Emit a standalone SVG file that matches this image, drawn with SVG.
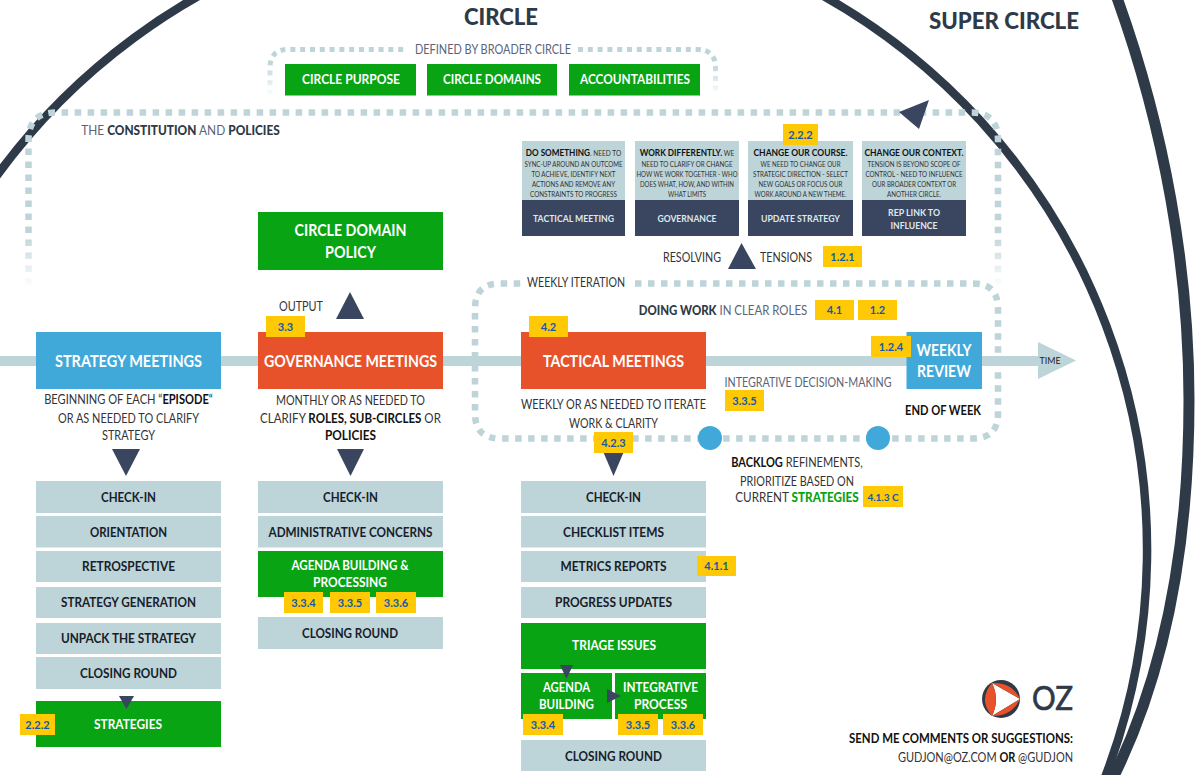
<svg xmlns="http://www.w3.org/2000/svg" width="1200" height="775" viewBox="0 0 1200 775">
<style>
text{font-family:Lato,"Liberation Sans",sans-serif;text-anchor:middle}
.blue{fill:#41a9da}.red{fill:#e7522a}.green{fill:#08a414}.pale{fill:#bdd4d9}.navy{fill:#3a4560}.ybox{fill:#ffc906}
.arc{fill:none;stroke:#2f3a48}
.d1{fill:none;stroke:url(#fadeA);stroke-width:6.5;stroke-dasharray:6.5 6.5}
.d2{fill:none;stroke:url(#fadeB);stroke-width:5;stroke-dasharray:5 4.8}
.d3{fill:none;stroke:#bdd4d9;stroke-width:6.5;stroke-dasharray:6.5 6.5}
.badge{font-size:11px;font-weight:700;fill:#1259ab}
.h1{font-size:17px;font-weight:700;fill:#fff}
.h2{font-size:14px;font-weight:700;fill:#fff}
.li{font-size:14px;font-weight:700;fill:#17202a}
.cap{font-size:13px;fill:#333}
.mut{font-size:13px;fill:#5a6478}
.b{font-weight:700;fill:#111}
.bn{font-weight:900;fill:#2f3a48}
.ct{font-size:10px;font-weight:700;fill:#111}
.cb{font-size:8px;fill:#333}
.cl{font-size:10px;font-weight:700;fill:#dfe9ec}
.title{font-size:23px;font-weight:900;fill:#2f3a48}
</style>
<defs>
<linearGradient id="fadeA" gradientUnits="userSpaceOnUse" x1="0" y1="232" x2="0" y2="285"><stop offset="0" stop-color="#bdd4d9"/><stop offset="1" stop-color="#bdd4d9" stop-opacity="0.05"/></linearGradient>
<linearGradient id="fadeB" gradientUnits="userSpaceOnUse" x1="0" y1="62" x2="0" y2="95"><stop offset="0" stop-color="#bdd4d9"/><stop offset="1" stop-color="#bdd4d9" stop-opacity="0.05"/></linearGradient>
</defs>

<g id="circles">
<path class="arc" stroke-width="8.5" d="M-20,200 A636,636 0 0 1 1104,780"/>
<path class="arc" stroke-width="11" d="M1116,-5 C1165,130 1189,270 1189,400 C1189,540 1167,670 1112,780"/>
</g>

<g id="connectors">
<rect class="pale" x="0" y="356" width="1040" height="10"/>
<polygon class="pale" points="1038,342 1076,360.500 1038,379"/>
<path class="d1" d="M28.500,285 V140 Q28.500,112.500 56,112.500 H971 Q998,112.500 998,140 V285"/>
<path class="d2" d="M270,95 V68 Q270,49.500 288,49.500 H404"/>
<path class="d2" d="M578,49.500 H697 Q715.500,49.500 715.500,68 V95"/>
<path class="d3" d="M635,283.500 H973 Q998,283.500 998,308.500 V413.500 Q998,438.500 973,438.500 H500 Q475,438.500 475,413.500 V308.500 Q475,283.500 500,283.500 H522"/>
<polygon class="navy" points="899,112 929,100 919,129"/>
<polygon class="navy" points="728,269 756,269 741.500,243"/>
<polygon class="navy" points="336,319 364,319 350,292"/>
<polygon class="navy" points="112,449 140,449 126,476"/>
<polygon class="navy" points="337,449 364,449 350.500,476"/>
<polygon class="navy" points="602,449 625,449 613.500,476"/>
<circle class="blue" cx="710" cy="438" r="12"/>
<circle class="blue" cx="878" cy="438" r="12"/>
</g>

<g id="titles">
<text class="title" x="501" y="24.500" textLength="74" lengthAdjust="spacingAndGlyphs">CIRCLE</text>
<text class="title" x="1004" y="29" textLength="150" lengthAdjust="spacingAndGlyphs">SUPER CIRCLE</text>
<text class="mut" x="493" y="54" textLength="156" lengthAdjust="spacingAndGlyphs">DEFINED BY BROADER CIRCLE</text>
<text class="mut" transform="translate(180.500,135) scale(.913,1)">THE <tspan class="bn">CONSTITUTION</tspan> AND <tspan class="bn">POLICIES</tspan></text>
<text class="cap" x="576" y="287" textLength="98" lengthAdjust="spacingAndGlyphs">WEEKLY ITERATION</text>
<text class="mut" transform="translate(723,315) scale(.88,1)"><tspan class="bn">DOING WORK</tspan> IN CLEAR ROLES</text>
<text class="cap" x="301" y="311" textLength="44" lengthAdjust="spacingAndGlyphs">OUTPUT</text>
<text class="cap" x="692" y="262" textLength="58" lengthAdjust="spacingAndGlyphs">RESOLVING</text>
<text class="cap" x="786" y="262" textLength="52" lengthAdjust="spacingAndGlyphs">TENSIONS</text>
<text class="mut" x="808" y="386.500" textLength="167" lengthAdjust="spacingAndGlyphs">INTEGRATIVE DECISION-MAKING</text>
<text class="cap b" x="943" y="415" textLength="76" lengthAdjust="spacingAndGlyphs">END OF WEEK</text>
<text class="cap" transform="translate(797,467) scale(.846,1)"><tspan class="b">BACKLOG</tspan> REFINEMENTS,</text>
<text class="cap" x="797" y="486" textLength="114" lengthAdjust="spacingAndGlyphs">PRIORITIZE BASED ON</text>
<text class="cap" transform="translate(797,502) scale(.9,1)">CURRENT <tspan font-weight="900" fill="#08a414">STRATEGIES</tspan></text>
<text font-size="10" fill="#222" x="1050" y="364" textLength="21" lengthAdjust="spacingAndGlyphs">TIME</text>
</g>

<g id="node-circle-purpose"><rect class="green" x="285" y="64" width="131" height="31.500"/><text class="h2" x="351" y="84" textLength="98" lengthAdjust="spacingAndGlyphs">CIRCLE PURPOSE</text></g>
<g id="node-circle-domains"><rect class="green" x="427" y="64" width="130" height="31.500"/><text class="h2" x="492" y="84" textLength="98" lengthAdjust="spacingAndGlyphs">CIRCLE DOMAINS</text></g>
<g id="node-accountabilities"><rect class="green" x="569" y="64" width="131" height="31.500"/><text class="h2" x="635" y="84" textLength="110" lengthAdjust="spacingAndGlyphs">ACCOUNTABILITIES</text></g>

<g id="node-do-something">
<rect class="pale" x="522" y="141" width="103" height="59"/><rect class="navy" x="522" y="200" width="103" height="36"/>
<text class="ct" transform="translate(573.500,156) scale(.82,1)">DO SOMETHING<tspan class="cb" font-weight="400">. NEED TO</tspan></text>
<text class="cb" x="573.500" y="167" textLength="98" lengthAdjust="spacingAndGlyphs">SYNC-UP AROUND AN OUTCOME</text>
<text class="cb" x="573.500" y="177" textLength="84" lengthAdjust="spacingAndGlyphs">TO ACHIEVE, IDENTIFY NEXT</text>
<text class="cb" x="573.500" y="187" textLength="83" lengthAdjust="spacingAndGlyphs">ACTIONS AND REMOVE ANY</text>
<text class="cb" x="573.500" y="196.500" textLength="87" lengthAdjust="spacingAndGlyphs">CONSTRAINTS TO PROGRESS</text>
<text class="cl" x="573.500" y="221.500" textLength="81" lengthAdjust="spacingAndGlyphs">TACTICAL MEETING</text>
</g>
<g id="node-work-differently">
<rect class="pale" x="635" y="141" width="104" height="59"/><rect class="navy" x="635" y="200" width="104" height="36"/>
<text class="ct" transform="translate(687,156) scale(.826,1)">WORK DIFFERENTLY.<tspan class="cb" font-weight="400"> WE</tspan></text>
<text class="cb" x="687" y="167" textLength="91" lengthAdjust="spacingAndGlyphs">NEED TO CLARIFY OR CHANGE</text>
<text class="cb" x="687" y="177" textLength="101" lengthAdjust="spacingAndGlyphs">HOW WE WORK TOGETHER - WHO</text>
<text class="cb" x="687" y="187" textLength="94" lengthAdjust="spacingAndGlyphs">DOES WHAT, HOW, AND WITHIN</text>
<text class="cb" x="687" y="196.500" textLength="38" lengthAdjust="spacingAndGlyphs">WHAT LIMITS</text>
<text class="cl" x="687" y="221.500" textLength="59" lengthAdjust="spacingAndGlyphs">GOVERNANCE</text>
</g>
<g id="node-change-course">
<rect class="pale" x="748" y="141" width="105" height="59"/><rect class="navy" x="748" y="200" width="105" height="36"/>
<text class="ct" x="800.500" y="156" textLength="94" lengthAdjust="spacingAndGlyphs">CHANGE OUR COURSE.</text>
<text class="cb" x="800.500" y="167" textLength="80" lengthAdjust="spacingAndGlyphs">WE NEED TO CHANGE OUR</text>
<text class="cb" x="800.500" y="177" textLength="95" lengthAdjust="spacingAndGlyphs">STRATEGIC DIRECTION - SELECT</text>
<text class="cb" x="800.500" y="187" textLength="84" lengthAdjust="spacingAndGlyphs">NEW GOALS OR FOCUS OUR</text>
<text class="cb" x="800.500" y="196.500" textLength="92" lengthAdjust="spacingAndGlyphs">WORK AROUND A NEW THEME.</text>
<text class="cl" x="800.500" y="221.500" textLength="79" lengthAdjust="spacingAndGlyphs">UPDATE STRATEGY</text>
</g>
<g id="node-change-context">
<rect class="pale" x="862" y="141" width="104" height="59"/><rect class="navy" x="862" y="200" width="104" height="36"/>
<text class="ct" x="914" y="156" textLength="99" lengthAdjust="spacingAndGlyphs">CHANGE OUR CONTEXT.</text>
<text class="cb" x="914" y="167" textLength="93" lengthAdjust="spacingAndGlyphs">TENSION IS BEYOND SCOPE OF</text>
<text class="cb" x="914" y="177" textLength="97" lengthAdjust="spacingAndGlyphs">CONTROL - NEED TO INFLUENCE</text>
<text class="cb" x="914" y="187" textLength="84" lengthAdjust="spacingAndGlyphs">OUR BROADER CONTEXT OR</text>
<text class="cb" x="914" y="196.500" textLength="54" lengthAdjust="spacingAndGlyphs">ANOTHER CIRCLE.</text>
<text class="cl" x="914" y="215.500" textLength="52" lengthAdjust="spacingAndGlyphs">REP LINK TO</text>
<text class="cl" x="914" y="228.500" textLength="47" lengthAdjust="spacingAndGlyphs">INFLUENCE</text>
</g>

<g id="node-circle-domain-policy"><rect class="green" x="258" y="212" width="185" height="58"/>
<text class="h1" x="350.500" y="236" textLength="112" lengthAdjust="spacingAndGlyphs">CIRCLE DOMAIN</text>
<text class="h1" x="350.500" y="258" textLength="51" lengthAdjust="spacingAndGlyphs">POLICY</text></g>

<g id="node-strategy-meetings"><rect class="blue" x="36" y="332" width="185" height="57"/><text class="h1" x="128.500" y="367" textLength="147" lengthAdjust="spacingAndGlyphs">STRATEGY MEETINGS</text></g>
<g id="node-governance-meetings"><rect class="red" x="258" y="332" width="185" height="57"/><text class="h1" x="350.500" y="367" textLength="173" lengthAdjust="spacingAndGlyphs">GOVERNANCE MEETINGS</text></g>
<g id="node-tactical-meetings"><rect class="red" x="521" y="332" width="185" height="57"/><text class="h1" x="613.500" y="367" textLength="141" lengthAdjust="spacingAndGlyphs">TACTICAL MEETINGS</text></g>
<g id="node-weekly-review"><rect class="blue" x="906.500" y="332" width="75.500" height="57"/>
<text class="h1" x="944" y="356" textLength="55" lengthAdjust="spacingAndGlyphs">WEEKLY</text>
<text class="h1" x="944" y="377" textLength="54" lengthAdjust="spacingAndGlyphs">REVIEW</text></g>

<g id="captions">
<text class="cap" transform="translate(128.500,404) scale(.853,1)">BEGINNING OF EACH “<tspan class="b">EPISODE</tspan>“</text>
<text class="cap" x="128.500" y="423" textLength="141" lengthAdjust="spacingAndGlyphs">OR AS NEEDED TO CLARIFY</text>
<text class="cap" x="128.500" y="440" textLength="53" lengthAdjust="spacingAndGlyphs">STRATEGY</text>
<text class="cap" x="350.500" y="405" textLength="149" lengthAdjust="spacingAndGlyphs">MONTHLY OR AS NEEDED TO</text>
<text class="cap" transform="translate(350.500,423) scale(.89,1)">CLARIFY <tspan class="b">ROLES, SUB-CIRCLES</tspan> OR</text>
<text class="cap b" x="350.500" y="440" textLength="51" lengthAdjust="spacingAndGlyphs">POLICIES</text>
<text class="cap" x="613.500" y="409" textLength="185" lengthAdjust="spacingAndGlyphs">WEEKLY OR AS NEEDED TO ITERATE</text>
<text class="cap" x="613.500" y="428" textLength="89" lengthAdjust="spacingAndGlyphs">WORK &amp; CLARITY</text>
</g>

<g id="node-s1"><rect class="pale" x="36" y="481" width="185" height="32"/><text class="li" x="128.500" y="502" textLength="55" lengthAdjust="spacingAndGlyphs">CHECK-IN</text></g>
<g id="node-s2"><rect class="pale" x="36" y="516" width="185" height="31.500"/><text class="li" x="128.500" y="537" textLength="77" lengthAdjust="spacingAndGlyphs">ORIENTATION</text></g>
<g id="node-s3"><rect class="pale" x="36" y="551" width="185" height="31"/><text class="li" x="128.500" y="571" textLength="93" lengthAdjust="spacingAndGlyphs">RETROSPECTIVE</text></g>
<g id="node-s4"><rect class="pale" x="36" y="587" width="185" height="31"/><text class="li" x="128.500" y="607" textLength="135" lengthAdjust="spacingAndGlyphs">STRATEGY GENERATION</text></g>
<g id="node-s5"><rect class="pale" x="36" y="623" width="185" height="31"/><text class="li" x="128.500" y="643" textLength="135" lengthAdjust="spacingAndGlyphs">UNPACK THE STRATEGY</text></g>
<g id="node-s6"><rect class="pale" x="36" y="657" width="185" height="32"/><text class="li" x="128.500" y="678" textLength="97" lengthAdjust="spacingAndGlyphs">CLOSING ROUND</text></g>
<g id="node-s7"><rect class="green" x="36" y="701" width="185" height="46"/><text class="h2" x="128" y="729" textLength="68" lengthAdjust="spacingAndGlyphs">STRATEGIES</text></g>

<g id="node-g1"><rect class="pale" x="258" y="481" width="185" height="32"/><text class="li" x="350.500" y="502" textLength="55" lengthAdjust="spacingAndGlyphs">CHECK-IN</text></g>
<g id="node-g2"><rect class="pale" x="258" y="516" width="185" height="31.500"/><text class="li" x="350.500" y="537" textLength="164" lengthAdjust="spacingAndGlyphs">ADMINISTRATIVE CONCERNS</text></g>
<g id="node-g3"><rect class="green" x="258" y="551" width="185" height="46"/>
<text class="h2" x="350" y="570" textLength="117" lengthAdjust="spacingAndGlyphs">AGENDA BUILDING &amp;</text>
<text class="h2" x="350" y="587" textLength="74" lengthAdjust="spacingAndGlyphs">PROCESSING</text></g>
<g id="node-g4"><rect class="pale" x="258" y="617" width="185" height="32"/><text class="li" x="350" y="638" textLength="96" lengthAdjust="spacingAndGlyphs">CLOSING ROUND</text></g>

<g id="node-t1"><rect class="pale" x="521" y="481" width="185" height="32"/><text class="li" x="613.500" y="502" textLength="55" lengthAdjust="spacingAndGlyphs">CHECK-IN</text></g>
<g id="node-t2"><rect class="pale" x="521" y="516" width="185" height="31.500"/><text class="li" x="613.500" y="537" textLength="101" lengthAdjust="spacingAndGlyphs">CHECKLIST ITEMS</text></g>
<g id="node-t3"><rect class="pale" x="521" y="551" width="185" height="31"/><text class="li" x="613.500" y="571" textLength="106" lengthAdjust="spacingAndGlyphs">METRICS REPORTS</text></g>
<g id="node-t4"><rect class="pale" x="521" y="587" width="185" height="31"/><text class="li" x="613.500" y="607" textLength="117" lengthAdjust="spacingAndGlyphs">PROGRESS UPDATES</text></g>
<g id="node-t5"><rect class="green" x="521" y="623" width="185" height="46"/><text class="h2" x="614" y="650" textLength="84" lengthAdjust="spacingAndGlyphs">TRIAGE ISSUES</text></g>
<g id="node-t6"><rect class="green" x="521" y="673" width="91" height="46"/>
<text class="h2" x="566.500" y="692" textLength="47" lengthAdjust="spacingAndGlyphs">AGENDA</text>
<text class="h2" x="566.500" y="709" textLength="55" lengthAdjust="spacingAndGlyphs">BUILDING</text></g>
<g id="node-t7"><rect class="green" x="615" y="673" width="91" height="46"/>
<text class="h2" x="660.500" y="692" textLength="75" lengthAdjust="spacingAndGlyphs">INTEGRATIVE</text>
<text class="h2" x="660.500" y="709" textLength="53" lengthAdjust="spacingAndGlyphs">PROCESS</text></g>
<g id="node-t8"><rect class="pale" x="521" y="740" width="185" height="31"/><text class="li" x="613.500" y="761" textLength="97" lengthAdjust="spacingAndGlyphs">CLOSING ROUND</text></g>

<g id="small-arrows">
<polygon class="navy" points="119,696 134,696 126.500,709"/>
<polygon class="navy" points="560,665 573,665 566.500,679"/>
<polygon class="navy" points="607,689 621,696 607,703"/>
</g>

<g id="badges">
<rect class="ybox" x="783" y="124" width="35" height="21"/><text class="badge" x="800.500" y="138.500">2.2.2</text>
<rect class="ybox" x="823" y="246" width="39" height="21"/><text class="badge" x="842.500" y="260.500">1.2.1</text>
<rect class="ybox" x="815" y="300" width="39" height="20"/><text class="badge" x="834.500" y="314">4.1</text>
<rect class="ybox" x="858" y="300" width="39" height="20"/><text class="badge" x="877.500" y="314">1.2</text>
<rect class="ybox" x="529" y="316" width="39" height="21"/><text class="badge" x="548.500" y="331">4.2</text>
<rect class="ybox" x="266" y="316" width="39" height="21"/><text class="badge" x="285.500" y="331">3.3</text>
<rect class="ybox" x="871" y="336" width="40" height="21"/><text class="badge" x="891" y="350.500">1.2.4</text>
<rect class="ybox" x="725" y="390" width="39" height="21"/><text class="badge" x="744.500" y="405">3.3.5</text>
<rect class="ybox" x="594" y="432" width="39" height="21"/><text class="badge" x="613.500" y="446.500">4.2.3</text>
<rect class="ybox" x="863" y="486" width="40" height="21"/><text class="badge" x="883" y="500.500" style="font-size:10px">4.1.3 C</text>
<rect class="ybox" x="697" y="556" width="39" height="20"/><text class="badge" x="716.500" y="570">4.1.1</text>
<rect class="ybox" x="284" y="592" width="39" height="21"/><text class="badge" x="303.500" y="607">3.3.4</text>
<rect class="ybox" x="330" y="592" width="40" height="21"/><text class="badge" x="350" y="607">3.3.5</text>
<rect class="ybox" x="376" y="592" width="40" height="21"/><text class="badge" x="396" y="607">3.3.6</text>
<rect class="ybox" x="20" y="714" width="35" height="21"/><text class="badge" x="37.500" y="728.500">2.2.2</text>
<rect class="ybox" x="523" y="714" width="40" height="21"/><text class="badge" x="543" y="729">3.3.4</text>
<rect class="ybox" x="618" y="714" width="40" height="21"/><text class="badge" x="638" y="729">3.3.5</text>
<rect class="ybox" x="663" y="714" width="40" height="21"/><text class="badge" x="683" y="729">3.3.6</text>
</g>

<g id="logo">
<circle cx="1001" cy="699" r="19" fill="#2f3a48"/>
<path d="M992,683 L1020,699 L992,716 Q1000,699.500 992,683Z" fill="#fff"/>
<path d="M992,683 Q978,699.500 992,716 Q1000,699.500 992,683Z" fill="#e7522a"/>
<path d="M992,683 Q1012,682 1020,699 Q1006,691 992,683Z" fill="#e7522a"/>
<path d="M992,716 Q1012,716 1020,699 Q1006,708 992,716Z" fill="#e7522a"/>
<text x="1052.500" y="710" font-size="33" font-weight="400" fill="#2f3a48" stroke="#2f3a48" stroke-width=".7" textLength="41" lengthAdjust="spacingAndGlyphs">OZ</text>
</g>
<g id="footer">
<text class="cap b" x="961" y="743" textLength="224" lengthAdjust="spacingAndGlyphs">SEND ME COMMENTS OR SUGGESTIONS:</text>
<text class="cap" transform="translate(985.500,762) scale(.845,1)">GUDJON@OZ.COM <tspan class="b">OR</tspan> @GUDJON</text>
</g>
</svg>
